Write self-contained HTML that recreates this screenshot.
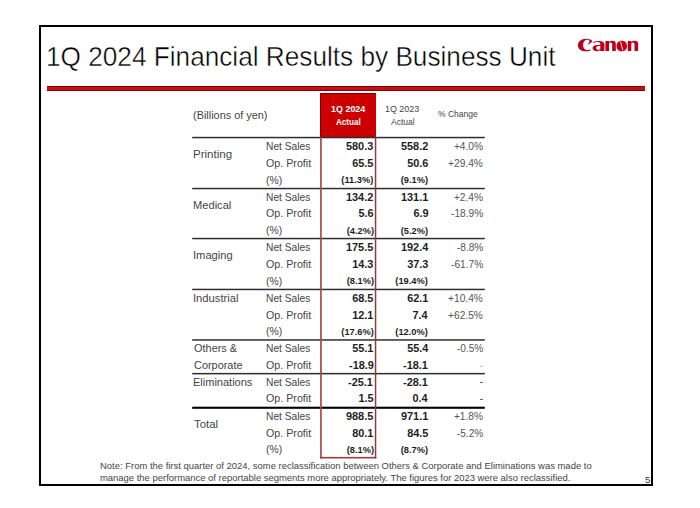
<!DOCTYPE html>
<html><head><meta charset="utf-8"><style>
html,body{margin:0;padding:0;background:#fff;}
body{width:700px;height:508px;position:relative;overflow:hidden;font-family:"Liberation Sans",sans-serif;}
.t{position:absolute;white-space:nowrap;line-height:1;}
</style></head><body>
<div style="position:absolute;left:39px;top:25px;width:614px;height:461px;box-sizing:border-box;border:2px solid #000"></div>
<div style="position:absolute;left:47px;top:86.3px;width:598px;height:5.1px;box-sizing:border-box;background:#c41010;border-top:1px solid #8a0000;border-bottom:1px solid #8a0000"></div>
<div style="position:absolute;left:320.2px;top:93px;width:55.6px;height:44.5px;box-sizing:border-box;background:#cc0000;border-top:1px solid #8a0000;border-left:1px solid #8a0000"></div>
<svg style="position:absolute;left:0;top:0" width="700" height="508" viewBox="0 0 700 508"><rect x="192.2" y="136.80" width="292.6" height="1.5" fill="#2e2e2e"/><rect x="192.2" y="187.80" width="292.6" height="1.5" fill="#2e2e2e"/><rect x="192.2" y="237.80" width="292.6" height="1.5" fill="#2e2e2e"/><rect x="192.2" y="288.70" width="292.6" height="1.5" fill="#2e2e2e"/><rect x="192.2" y="339.20" width="292.6" height="1.5" fill="#2e2e2e"/><rect x="192.2" y="372.90" width="292.6" height="1.5" fill="#2e2e2e"/><rect x="192.2" y="406.7" width="292.6" height="2.1" fill="#000"/><rect x="320.1" y="137.2" width="1.7" height="321.2" fill="#a44c4c"/><rect x="374.8" y="137.2" width="1.5" height="321.2" fill="#8a3d3d"/><rect x="320.1" y="456.9" width="56.2" height="1.6" fill="#a23a3a"/></svg>

<svg style="position:absolute;left:0;top:0" width="700" height="508" viewBox="0 0 700 508">
<g fill="#c0001a">
<path d="M592.5,41.5 C591.6,39.6 589,38.7 586.2,38.7 C581.2,38.7 577.9,41.6 577.9,45.2 C577.9,48.8 581.0,51.3 585.6,51.3 C587.6,51.3 589.5,50.9 590.9,50.3 L590.5,49.6 C589.5,49.9 588.4,50.1 587.3,50.1 C584.6,50.1 583.1,48.0 583.1,45.0 C583.1,41.9 584.6,39.7 587.0,39.7 C588.3,39.7 589.2,40.2 589.6,40.9 L587.8,45.0 Z"/>
<path d="M593.2,41.9 C595.3,41.0 597.4,40.8 599.5,40.9 C602.6,41.1 604.4,42.3 604.4,44.6 L604.4,51 L600.3,51 L600.3,50.2 C599.3,50.9 598.0,51.2 596.7,51.2 C594.4,51.2 592.6,50.0 592.6,48.1 C592.6,46.2 594.7,45.2 597.5,45.1 L600.3,45.0 L600.3,44.2 C600.3,42.8 599.5,41.9 597.8,41.9 C596.2,41.9 594.7,42.4 593.5,42.9 Z M600.3,45.9 L598.6,46.0 C597.1,46.1 596.3,46.9 596.3,48.0 C596.3,49.2 597.1,49.9 598.2,49.9 C599.1,49.9 599.8,49.6 600.3,49.1 Z"/>
<path d="M605.4,41 L609.0,41 L609.0,42.2 C610.0,41.3 611.1,40.8 612.6,40.8 C614.7,40.8 615.8,42 615.8,44 L615.8,51 L612.2,51 L612.2,44.4 C612.2,43.1 611.7,42.4 610.8,42.4 C610.1,42.4 609.5,42.7 609.0,43.2 L609.0,51 L605.4,51 Z"/>
<path fill-rule="evenodd" d="M621.8,40.7 C625.0,40.7 627.0,42.9 627.0,46 C627.0,49.1 625.0,51.3 621.8,51.3 C618.6,51.3 616.5,49.1 616.5,46 C616.5,42.9 618.6,40.7 621.8,40.7 Z M621.0,41.4 L620.2,41.8 L622.5,50.6 L623.3,50.2 Z"/>
<path d="M627.7,41 L631.3,41 L631.3,42.2 C632.3,41.3 633.4,40.8 634.9,40.8 C637.0,40.8 638.1,42 638.1,44 L638.1,51 L634.5,51 L634.5,44.4 C634.5,43.1 634.0,42.4 633.1,42.4 C632.4,42.4 631.8,42.7 631.3,43.2 L631.3,51 L627.7,51 Z"/>
</g></svg>
<div class="t" style="top:42.70px;font-size:28.00px;font-weight:400;color:#000;left:45.94px;transform:scaleX(0.9354);transform-origin:0 0;-webkit-text-stroke:0.45px #fff;">1Q 2024 Financial Results by Business Unit</div><div class="t" style="top:110.55px;font-size:10.30px;font-weight:400;color:#444444;left:193.25px;transform:scaleX(1.0583);transform-origin:0 0;">(Billions of yen)</div><div class="t" style="top:104.70px;font-size:9.00px;font-weight:700;color:#fff;left:330.76px;transform:scaleX(0.9932);transform-origin:0 0;">1Q 2024</div><div class="t" style="top:117.70px;font-size:9.00px;font-weight:700;color:#fff;left:336.00px;transform:scaleX(0.8994);transform-origin:0 0;">Actual</div><div class="t" style="top:103.95px;font-size:9.50px;font-weight:400;color:#444444;left:385.43px;transform:scaleX(0.9366);transform-origin:0 0;">1Q 2023</div><div class="t" style="top:116.95px;font-size:9.50px;font-weight:400;color:#444444;left:391.30px;transform:scaleX(0.8973);transform-origin:0 0;">Actual</div><div class="t" style="top:108.95px;font-size:9.50px;font-weight:400;color:#444444;left:438.10px;transform:scaleX(0.8967);transform-origin:0 0;">% Change</div><div class="t" style="top:149.55px;font-size:10.30px;font-weight:400;color:#444444;left:193.28px;transform:scaleX(1.1190);transform-origin:0 0;">Printing</div><div class="t" style="top:141.50px;font-size:10.40px;font-weight:400;color:#444444;left:265.78px;transform:scaleX(0.9843);transform-origin:0 0;">Net Sales</div><div class="t" style="top:140.95px;font-size:10.50px;font-weight:700;color:#1e1e1e;right:326.49px;text-align:right;transform:scaleX(1.0400);transform-origin:100% 0;">580.3</div><div class="t" style="top:140.95px;font-size:10.50px;font-weight:700;color:#1e1e1e;right:271.54px;text-align:right;transform:scaleX(1.0400);transform-origin:100% 0;">558.2</div><div class="t" style="top:140.95px;font-size:10.50px;font-weight:400;color:#555555;right:217.06px;text-align:right;transform:scaleX(0.9700);transform-origin:100% 0;">+4.0%</div><div class="t" style="top:158.50px;font-size:10.40px;font-weight:400;color:#444444;left:266.12px;transform:scaleX(1.0284);transform-origin:0 0;">Op. Profit</div><div class="t" style="top:157.95px;font-size:10.50px;font-weight:700;color:#1e1e1e;right:326.61px;text-align:right;transform:scaleX(1.0400);transform-origin:100% 0;">65.5</div><div class="t" style="top:157.95px;font-size:10.50px;font-weight:700;color:#1e1e1e;right:271.60px;text-align:right;transform:scaleX(1.0400);transform-origin:100% 0;">50.6</div><div class="t" style="top:157.95px;font-size:10.50px;font-weight:400;color:#555555;right:217.05px;text-align:right;transform:scaleX(0.9700);transform-origin:100% 0;">+29.4%</div><div class="t" style="top:175.50px;font-size:10.40px;font-weight:400;color:#444444;left:265.97px;transform:scaleX(1.0019);transform-origin:0 0;">(%)</div><div class="t" style="top:175.95px;font-size:8.50px;font-weight:700;color:#1e1e1e;right:326.47px;text-align:right;transform:scaleX(1.0900);transform-origin:100% 0;">(11.3%)</div><div class="t" style="top:175.95px;font-size:8.50px;font-weight:700;color:#1e1e1e;right:271.73px;text-align:right;transform:scaleX(1.0900);transform-origin:100% 0;">(9.1%)</div><div class="t" style="top:200.55px;font-size:10.30px;font-weight:400;color:#444444;left:193.31px;transform:scaleX(1.0797);transform-origin:0 0;">Medical</div><div class="t" style="top:192.50px;font-size:10.40px;font-weight:400;color:#444444;left:265.78px;transform:scaleX(0.9843);transform-origin:0 0;">Net Sales</div><div class="t" style="top:191.95px;font-size:10.50px;font-weight:700;color:#1e1e1e;right:326.44px;text-align:right;transform:scaleX(1.0400);transform-origin:100% 0;">134.2</div><div class="t" style="top:191.95px;font-size:10.50px;font-weight:700;color:#1e1e1e;right:271.70px;text-align:right;transform:scaleX(1.0400);transform-origin:100% 0;">131.1</div><div class="t" style="top:191.95px;font-size:10.50px;font-weight:400;color:#555555;right:217.06px;text-align:right;transform:scaleX(0.9700);transform-origin:100% 0;">+2.4%</div><div class="t" style="top:208.50px;font-size:10.40px;font-weight:400;color:#444444;left:266.12px;transform:scaleX(1.0284);transform-origin:0 0;">Op. Profit</div><div class="t" style="top:207.95px;font-size:10.50px;font-weight:700;color:#1e1e1e;right:326.52px;text-align:right;transform:scaleX(1.0400);transform-origin:100% 0;">5.6</div><div class="t" style="top:207.95px;font-size:10.50px;font-weight:700;color:#1e1e1e;right:271.62px;text-align:right;transform:scaleX(1.0400);transform-origin:100% 0;">6.9</div><div class="t" style="top:207.95px;font-size:10.50px;font-weight:400;color:#555555;right:217.06px;text-align:right;transform:scaleX(0.9700);transform-origin:100% 0;">-18.9%</div><div class="t" style="top:225.50px;font-size:10.40px;font-weight:400;color:#444444;left:265.97px;transform:scaleX(1.0019);transform-origin:0 0;">(%)</div><div class="t" style="top:226.95px;font-size:8.50px;font-weight:700;color:#1e1e1e;right:326.43px;text-align:right;transform:scaleX(1.0900);transform-origin:100% 0;">(4.2%)</div><div class="t" style="top:226.95px;font-size:8.50px;font-weight:700;color:#1e1e1e;right:271.73px;text-align:right;transform:scaleX(1.0900);transform-origin:100% 0;">(5.2%)</div><div class="t" style="top:250.55px;font-size:10.30px;font-weight:400;color:#444444;left:193.20px;transform:scaleX(1.0822);transform-origin:0 0;">Imaging</div><div class="t" style="top:242.50px;font-size:10.40px;font-weight:400;color:#444444;left:265.78px;transform:scaleX(0.9843);transform-origin:0 0;">Net Sales</div><div class="t" style="top:241.95px;font-size:10.50px;font-weight:700;color:#1e1e1e;right:326.60px;text-align:right;transform:scaleX(1.0400);transform-origin:100% 0;">175.5</div><div class="t" style="top:241.95px;font-size:10.50px;font-weight:700;color:#1e1e1e;right:271.92px;text-align:right;transform:scaleX(1.0400);transform-origin:100% 0;">192.4</div><div class="t" style="top:241.95px;font-size:10.50px;font-weight:400;color:#555555;right:217.07px;text-align:right;transform:scaleX(0.9700);transform-origin:100% 0;">-8.8%</div><div class="t" style="top:259.50px;font-size:10.40px;font-weight:400;color:#444444;left:266.12px;transform:scaleX(1.0284);transform-origin:0 0;">Op. Profit</div><div class="t" style="top:258.95px;font-size:10.50px;font-weight:700;color:#1e1e1e;right:326.50px;text-align:right;transform:scaleX(1.0400);transform-origin:100% 0;">14.3</div><div class="t" style="top:258.95px;font-size:10.50px;font-weight:700;color:#1e1e1e;right:271.60px;text-align:right;transform:scaleX(1.0400);transform-origin:100% 0;">37.3</div><div class="t" style="top:258.95px;font-size:10.50px;font-weight:400;color:#555555;right:217.06px;text-align:right;transform:scaleX(0.9700);transform-origin:100% 0;">-61.7%</div><div class="t" style="top:276.50px;font-size:10.40px;font-weight:400;color:#444444;left:265.97px;transform:scaleX(1.0019);transform-origin:0 0;">(%)</div><div class="t" style="top:276.95px;font-size:8.50px;font-weight:700;color:#1e1e1e;right:326.43px;text-align:right;transform:scaleX(1.0900);transform-origin:100% 0;">(8.1%)</div><div class="t" style="top:276.95px;font-size:8.50px;font-weight:700;color:#1e1e1e;right:271.77px;text-align:right;transform:scaleX(1.0900);transform-origin:100% 0;">(19.4%)</div><div class="t" style="top:293.55px;font-size:10.30px;font-weight:400;color:#444444;left:193.19px;transform:scaleX(1.0879);transform-origin:0 0;">Industrial</div><div class="t" style="top:293.50px;font-size:10.40px;font-weight:400;color:#444444;left:265.78px;transform:scaleX(0.9843);transform-origin:0 0;">Net Sales</div><div class="t" style="top:292.95px;font-size:10.50px;font-weight:700;color:#1e1e1e;right:326.61px;text-align:right;transform:scaleX(1.0400);transform-origin:100% 0;">68.5</div><div class="t" style="top:292.95px;font-size:10.50px;font-weight:700;color:#1e1e1e;right:271.71px;text-align:right;transform:scaleX(1.0400);transform-origin:100% 0;">62.1</div><div class="t" style="top:292.95px;font-size:10.50px;font-weight:400;color:#555555;right:217.05px;text-align:right;transform:scaleX(0.9700);transform-origin:100% 0;">+10.4%</div><div class="t" style="top:310.50px;font-size:10.40px;font-weight:400;color:#444444;left:266.12px;transform:scaleX(1.0284);transform-origin:0 0;">Op. Profit</div><div class="t" style="top:309.95px;font-size:10.50px;font-weight:700;color:#1e1e1e;right:326.61px;text-align:right;transform:scaleX(1.0400);transform-origin:100% 0;">12.1</div><div class="t" style="top:309.95px;font-size:10.50px;font-weight:700;color:#1e1e1e;right:271.94px;text-align:right;transform:scaleX(1.0400);transform-origin:100% 0;">7.4</div><div class="t" style="top:309.95px;font-size:10.50px;font-weight:400;color:#555555;right:217.05px;text-align:right;transform:scaleX(0.9700);transform-origin:100% 0;">+62.5%</div><div class="t" style="top:326.50px;font-size:10.40px;font-weight:400;color:#444444;left:265.97px;transform:scaleX(1.0019);transform-origin:0 0;">(%)</div><div class="t" style="top:327.95px;font-size:8.50px;font-weight:700;color:#1e1e1e;right:326.47px;text-align:right;transform:scaleX(1.0900);transform-origin:100% 0;">(17.6%)</div><div class="t" style="top:327.95px;font-size:8.50px;font-weight:700;color:#1e1e1e;right:271.77px;text-align:right;transform:scaleX(1.0900);transform-origin:100% 0;">(12.0%)</div><div class="t" style="top:343.55px;font-size:10.30px;font-weight:400;color:#444444;left:193.71px;transform:scaleX(1.0621);transform-origin:0 0;">Others &amp;</div><div class="t" style="top:360.55px;font-size:10.30px;font-weight:400;color:#444444;left:193.65px;transform:scaleX(1.0601);transform-origin:0 0;">Corporate</div><div class="t" style="top:343.50px;font-size:10.40px;font-weight:400;color:#444444;left:265.78px;transform:scaleX(0.9843);transform-origin:0 0;">Net Sales</div><div class="t" style="top:342.95px;font-size:10.50px;font-weight:700;color:#1e1e1e;right:326.61px;text-align:right;transform:scaleX(1.0400);transform-origin:100% 0;">55.1</div><div class="t" style="top:342.95px;font-size:10.50px;font-weight:700;color:#1e1e1e;right:271.93px;text-align:right;transform:scaleX(1.0400);transform-origin:100% 0;">55.4</div><div class="t" style="top:342.95px;font-size:10.50px;font-weight:400;color:#555555;right:217.07px;text-align:right;transform:scaleX(0.9700);transform-origin:100% 0;">-0.5%</div><div class="t" style="top:360.50px;font-size:10.40px;font-weight:400;color:#444444;left:266.12px;transform:scaleX(1.0284);transform-origin:0 0;">Op. Profit</div><div class="t" style="top:359.95px;font-size:10.50px;font-weight:700;color:#1e1e1e;right:326.52px;text-align:right;transform:scaleX(1.0400);transform-origin:100% 0;">-18.9</div><div class="t" style="top:359.95px;font-size:10.50px;font-weight:700;color:#1e1e1e;right:271.73px;text-align:right;transform:scaleX(1.0400);transform-origin:100% 0;">-18.1</div><div style="position:absolute;left:480px;top:365.55px;width:2.5px;height:1px;background:#c4c4c4"></div><div class="t" style="top:377.55px;font-size:10.30px;font-weight:400;color:#444444;left:193.32px;transform:scaleX(1.0693);transform-origin:0 0;">Eliminations</div><div class="t" style="top:377.50px;font-size:10.40px;font-weight:400;color:#444444;left:265.78px;transform:scaleX(0.9843);transform-origin:0 0;">Net Sales</div><div class="t" style="top:376.95px;font-size:10.50px;font-weight:700;color:#1e1e1e;right:326.63px;text-align:right;transform:scaleX(1.0400);transform-origin:100% 0;">-25.1</div><div class="t" style="top:376.95px;font-size:10.50px;font-weight:700;color:#1e1e1e;right:271.73px;text-align:right;transform:scaleX(1.0400);transform-origin:100% 0;">-28.1</div><div style="position:absolute;left:480px;top:382.10px;width:2.5px;height:1px;background:#666"></div><div class="t" style="top:393.50px;font-size:10.40px;font-weight:400;color:#444444;left:266.12px;transform:scaleX(1.0284);transform-origin:0 0;">Op. Profit</div><div class="t" style="top:392.95px;font-size:10.50px;font-weight:700;color:#1e1e1e;right:326.63px;text-align:right;transform:scaleX(1.0400);transform-origin:100% 0;">1.5</div><div class="t" style="top:392.95px;font-size:10.50px;font-weight:700;color:#1e1e1e;right:271.94px;text-align:right;transform:scaleX(1.0400);transform-origin:100% 0;">0.4</div><div style="position:absolute;left:480px;top:398.95px;width:2.5px;height:1px;background:#666"></div><div class="t" style="top:419.55px;font-size:10.30px;font-weight:400;color:#444444;left:193.97px;transform:scaleX(1.1075);transform-origin:0 0;">Total</div><div class="t" style="top:411.50px;font-size:10.40px;font-weight:400;color:#444444;left:265.78px;transform:scaleX(0.9843);transform-origin:0 0;">Net Sales</div><div class="t" style="top:410.95px;font-size:10.50px;font-weight:700;color:#1e1e1e;right:326.60px;text-align:right;transform:scaleX(1.0400);transform-origin:100% 0;">988.5</div><div class="t" style="top:410.95px;font-size:10.50px;font-weight:700;color:#1e1e1e;right:271.70px;text-align:right;transform:scaleX(1.0400);transform-origin:100% 0;">971.1</div><div class="t" style="top:410.95px;font-size:10.50px;font-weight:400;color:#555555;right:217.06px;text-align:right;transform:scaleX(0.9700);transform-origin:100% 0;">+1.8%</div><div class="t" style="top:428.50px;font-size:10.40px;font-weight:400;color:#444444;left:266.12px;transform:scaleX(1.0284);transform-origin:0 0;">Op. Profit</div><div class="t" style="top:427.95px;font-size:10.50px;font-weight:700;color:#1e1e1e;right:326.61px;text-align:right;transform:scaleX(1.0400);transform-origin:100% 0;">80.1</div><div class="t" style="top:427.95px;font-size:10.50px;font-weight:700;color:#1e1e1e;right:271.71px;text-align:right;transform:scaleX(1.0400);transform-origin:100% 0;">84.5</div><div class="t" style="top:427.95px;font-size:10.50px;font-weight:400;color:#555555;right:217.07px;text-align:right;transform:scaleX(0.9700);transform-origin:100% 0;">-5.2%</div><div class="t" style="top:444.50px;font-size:10.40px;font-weight:400;color:#444444;left:265.97px;transform:scaleX(1.0019);transform-origin:0 0;">(%)</div><div class="t" style="top:445.95px;font-size:8.50px;font-weight:700;color:#1e1e1e;right:326.43px;text-align:right;transform:scaleX(1.0900);transform-origin:100% 0;">(8.1%)</div><div class="t" style="top:445.95px;font-size:8.50px;font-weight:700;color:#1e1e1e;right:271.73px;text-align:right;transform:scaleX(1.0900);transform-origin:100% 0;">(8.7%)</div><div class="t" style="top:461.85px;font-size:8.70px;font-weight:400;color:#444444;left:100.24px;transform:scaleX(1.0878);transform-origin:0 0;">Note: From the first quarter of 2024, some reclassification between Others &amp; Corporate and Eliminations was made to</div><div class="t" style="top:473.85px;font-size:8.70px;font-weight:400;color:#444444;left:100.39px;transform:scaleX(1.0868);transform-origin:0 0;">manage the performance of reportable segments more appropriately. The figures for 2023 were also reclassified.</div><div class="t" style="top:474.80px;font-size:9.80px;font-weight:400;color:#333;right:49.80px;text-align:right;transform:scaleX(0.9882);transform-origin:100% 0;">5</div>
</body></html>
